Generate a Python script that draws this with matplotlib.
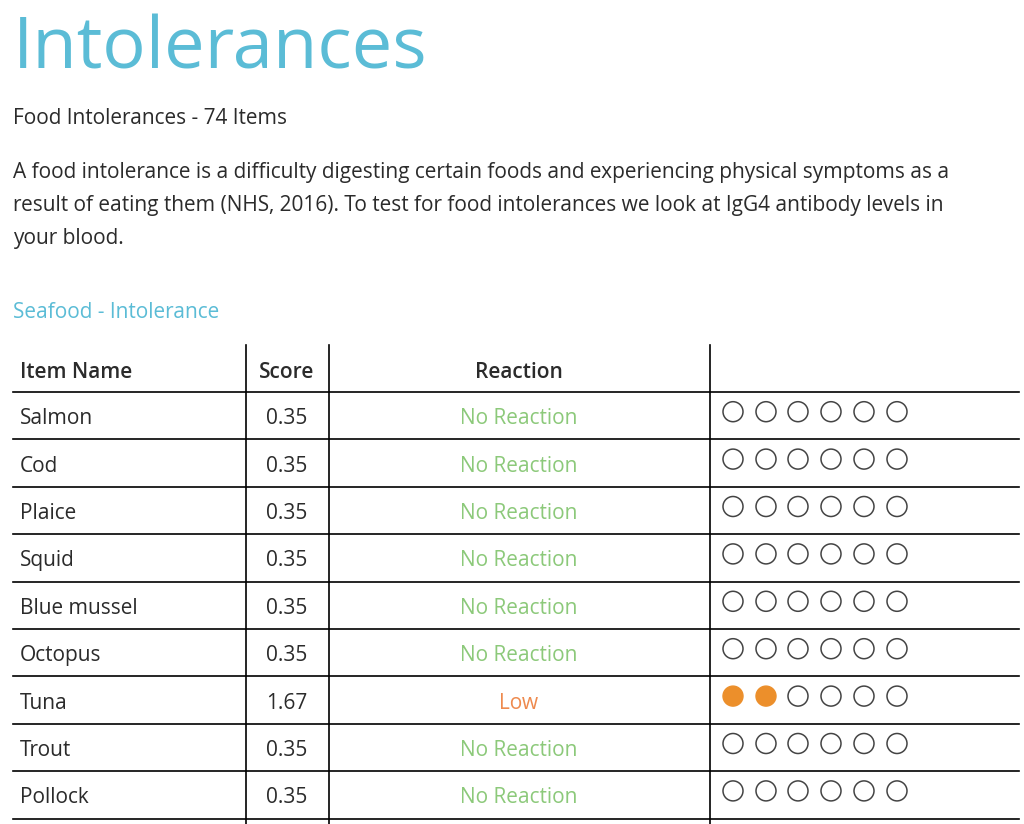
import matplotlib
matplotlib.use("Agg")
import matplotlib.pyplot as plt
from matplotlib.patches import Circle

items = ["Salmon", "Cod", "Plaice", "Squid", "Blue mussel", "Octopus", "Tuna", "Trout", "Pollock"]
scores = ["0.35", "0.35", "0.35", "0.35", "0.35", "0.35", "1.67", "0.35", "0.35"]
reactions = ["No Reaction"] * 6 + ["Low"] + ["No Reaction"] * 2
filled = [0, 0, 0, 0, 0, 0, 2, 0, 0]
headers = ["Item Name", "Score", "Reaction"]

FONT = "Open Sans"
BLUE = "#5bbcd6"
GREEN = "#8cc97a"
ORANGE = "#ee8a4e"
DOT = "#ec8f2b"
TXT = "#2b2b2b"
FS = 15

fig = plt.figure(figsize=(10.24, 8.24), dpi=100)
ax = fig.add_axes([0, 0, 1, 1])
ax.set_xlim(0, 1024); ax.set_ylim(824, 0); ax.axis("off")

ax.text(13, 68, "Intolerances", fontsize=52, color=BLUE, family=FONT, va="baseline")
ax.text(13, 124, "Food Intolerances - 74 Items", fontsize=FS, color=TXT, family=FONT, va="baseline")
para = ["A food intolerance is a difficulty digesting certain foods and experiencing physical symptoms as a",
        "result of eating them (NHS, 2016). To test for food intolerances we look at IgG4 antibody levels in",
        "your blood."]
for i, l in enumerate(para):
    ax.text(13, 178 + i * 33, l, fontsize=FS, color=TXT, family=FONT, va="baseline")
ax.text(13, 318, "Seafood - Intolerance", fontsize=FS, color=BLUE, family=FONT, va="baseline")

top = 392; rh = 47.4
for xv in [246, 329, 710]:
    ax.plot([xv, xv], [345, 824], color="black", lw=1.2)
for k in range(len(items) + 1):
    y = top + k * rh
    ax.plot([13, 1019], [y, y], color="black", lw=1.2)

hy = 372
ax.text(20, hy, headers[0], fontsize=FS, color=TXT, family=FONT, va="center", weight="semibold")
ax.text(287, hy, headers[1], fontsize=FS, color=TXT, family=FONT, va="center", ha="center", weight="semibold")
ax.text(519, hy, headers[2], fontsize=FS, color=TXT, family=FONT, va="center", ha="center", weight="semibold")

cx = [733, 766, 798, 831, 864, 897]
for i, (n, s, r, f) in enumerate(zip(items, scores, reactions, filled)):
    yc = top + i * rh + rh / 2 + 3
    ax.text(20, yc, n, fontsize=FS, color=TXT, family=FONT, va="center")
    ax.text(287, yc, s, fontsize=FS, color=TXT, family=FONT, va="center", ha="center")
    ax.text(519, yc, r, fontsize=FS, color=GREEN if r == "No Reaction" else ORANGE,
            family=FONT, va="center", ha="center")
    for j, x in enumerate(cx):
        yd = yc - 7
        if j < f:
            ax.add_patch(Circle((x, yd), 10, facecolor=DOT, edgecolor=DOT, lw=1))
        else:
            ax.add_patch(Circle((x, yd), 10, facecolor="white", edgecolor="#444444", lw=1.1))

fig.savefig("out.png", dpi=100)
